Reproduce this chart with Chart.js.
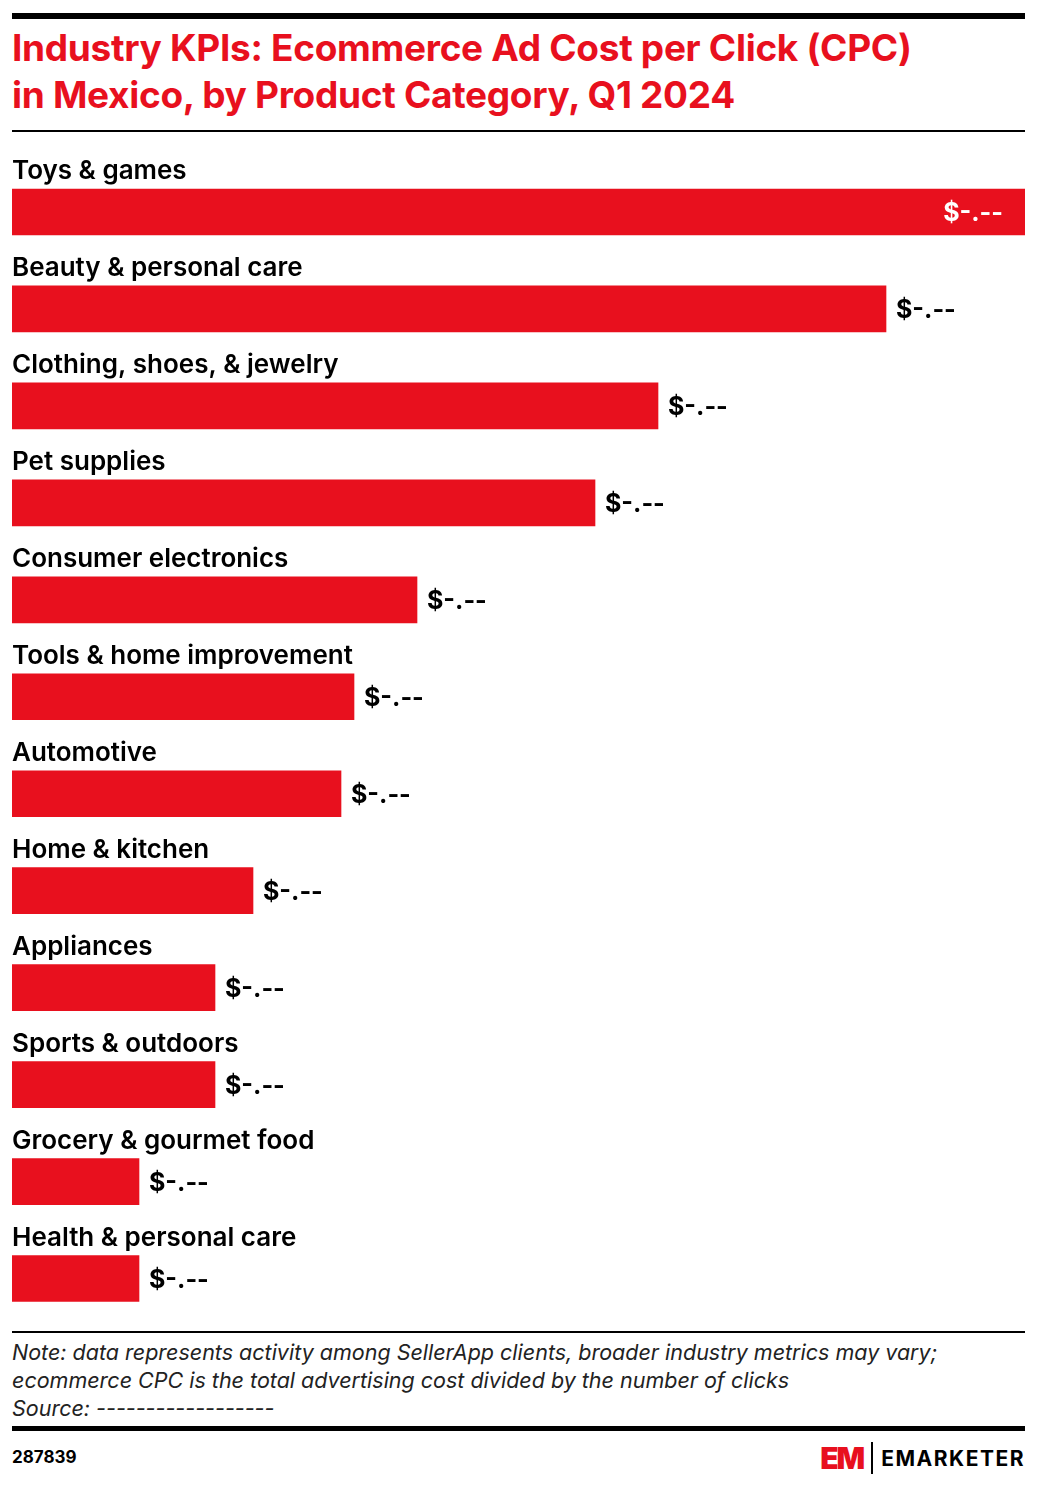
<!DOCTYPE html>
<html>
<head>
<meta charset="utf-8">
<script src="https://cdn.jsdelivr.net/npm/chart.js@4"></script>
<style>
  body { margin:0; width:1038px; height:1487px; background:#fff; font-family:Inter, "Noto Sans", sans-serif; position:relative; overflow:hidden; }
  .rule { position:absolute; left:12px; width:1013px; background:#000; }
  #title { position:absolute; left:12px; top:24px; margin:0; color:#e8101e; font-size:37px; line-height:47px; font-weight:700; letter-spacing:-0.3px; }
  #wrap { position:absolute; left:12px; top:140px; width:1013px; height:1187px; }
  #note { position:absolute; left:12px; top:1338px; font-size:21.5px; line-height:28px; font-style:italic; color:#222; }
  #id { position:absolute; left:12px; top:1447px; font-size:17px; font-weight:700; }
  #logo { position:absolute; right:13px; top:1440px; display:flex; align-items:center; font-weight:700; }
  #logo .em { color:#e8101e; font-size:30px; font-weight:900; letter-spacing:-2px; }
  #logo .bar { width:2px; height:32px; background:#000; margin:0 8px; }
  #logo .tx { font-size:21px; letter-spacing:1.5px; }
</style>
</head>
<body>
<div class="rule" style="top:13px;height:6px"></div>
<h1 id="title">Industry KPIs: Ecommerce Ad Cost per Click (CPC)<br>in Mexico, by Product Category, Q1 2024</h1>
<div class="rule" style="top:130px;height:2px"></div>
<div id="wrap"><canvas id="myChart"></canvas></div>
<div class="rule" style="top:1331px;height:2px"></div>
<div id="note">Note: data represents activity among SellerApp clients, broader industry metrics may vary;<br>ecommerce CPC is the total advertising cost divided by the number of clicks<br>Source: ------------------</div>
<div class="rule" style="top:1426px;height:5px"></div>
<div id="id">287839</div>
<div id="logo"><span class="em">EM</span><span class="bar"></span><span class="tx">EMARKETER</span></div>
<script>
// categories and relative bar lengths
let categories = ["Toys & games", "Beauty & personal care", "Clothing, shoes, & jewelry", "Pet supplies",
  "Consumer electronics", "Tools & home improvement", "Automotive", "Home & kitchen",
  "Appliances", "Sports & outdoors", "Grocery & gourmet food", "Health & personal care"]
let values = [1013, 874, 646, 583, 405, 342, 329, 241, 203, 203, 127, 127]
let valueLabels = categories.map(() => "$-.--")

const labelPlugin = {
  id: 'labels',
  afterDatasetsDraw(chart) {
    const ctx = chart.ctx
    const meta = chart.getDatasetMeta(0)
    const left = chart.chartArea.left
    ctx.save()
    ctx.textBaseline = 'alphabetic'
    meta.data.forEach((bar, i) => {
      ctx.fillStyle = '#000'
      ctx.font = '600 26px Inter, sans-serif'
      ctx.textAlign = 'left'
      ctx.fillText(categories[i], left, bar.y - 33)
      ctx.font = '700 25px Inter, sans-serif'
      if (i === 0) {
        ctx.fillStyle = '#fff'
        ctx.textAlign = 'right'
        ctx.fillText(valueLabels[i], bar.x - 22, bar.y + 9)
      } else {
        ctx.fillText(valueLabels[i], bar.x + 10, bar.y + 9)
      }
    })
    ctx.restore()
  }
}

new Chart("myChart", {
  type: "bar",
  data: {
    labels: categories,
    datasets: [{ data: values, backgroundColor: "#e8101e", barThickness: 46 }]
  },
  options: {
    indexAxis: 'y',
    responsive: true,
    maintainAspectRatio: false,
    animation: false,
    layout: { padding: { top: 23.5, left: 0, right: 0, bottom: 0 } },
    plugins: { legend: { display: false }, tooltip: { enabled: false } },
    scales: {
      x: { display: false, min: 0, max: 1013 },
      y: { display: false }
    }
  },
  plugins: [labelPlugin]
});
</script>
</body>
</html>
